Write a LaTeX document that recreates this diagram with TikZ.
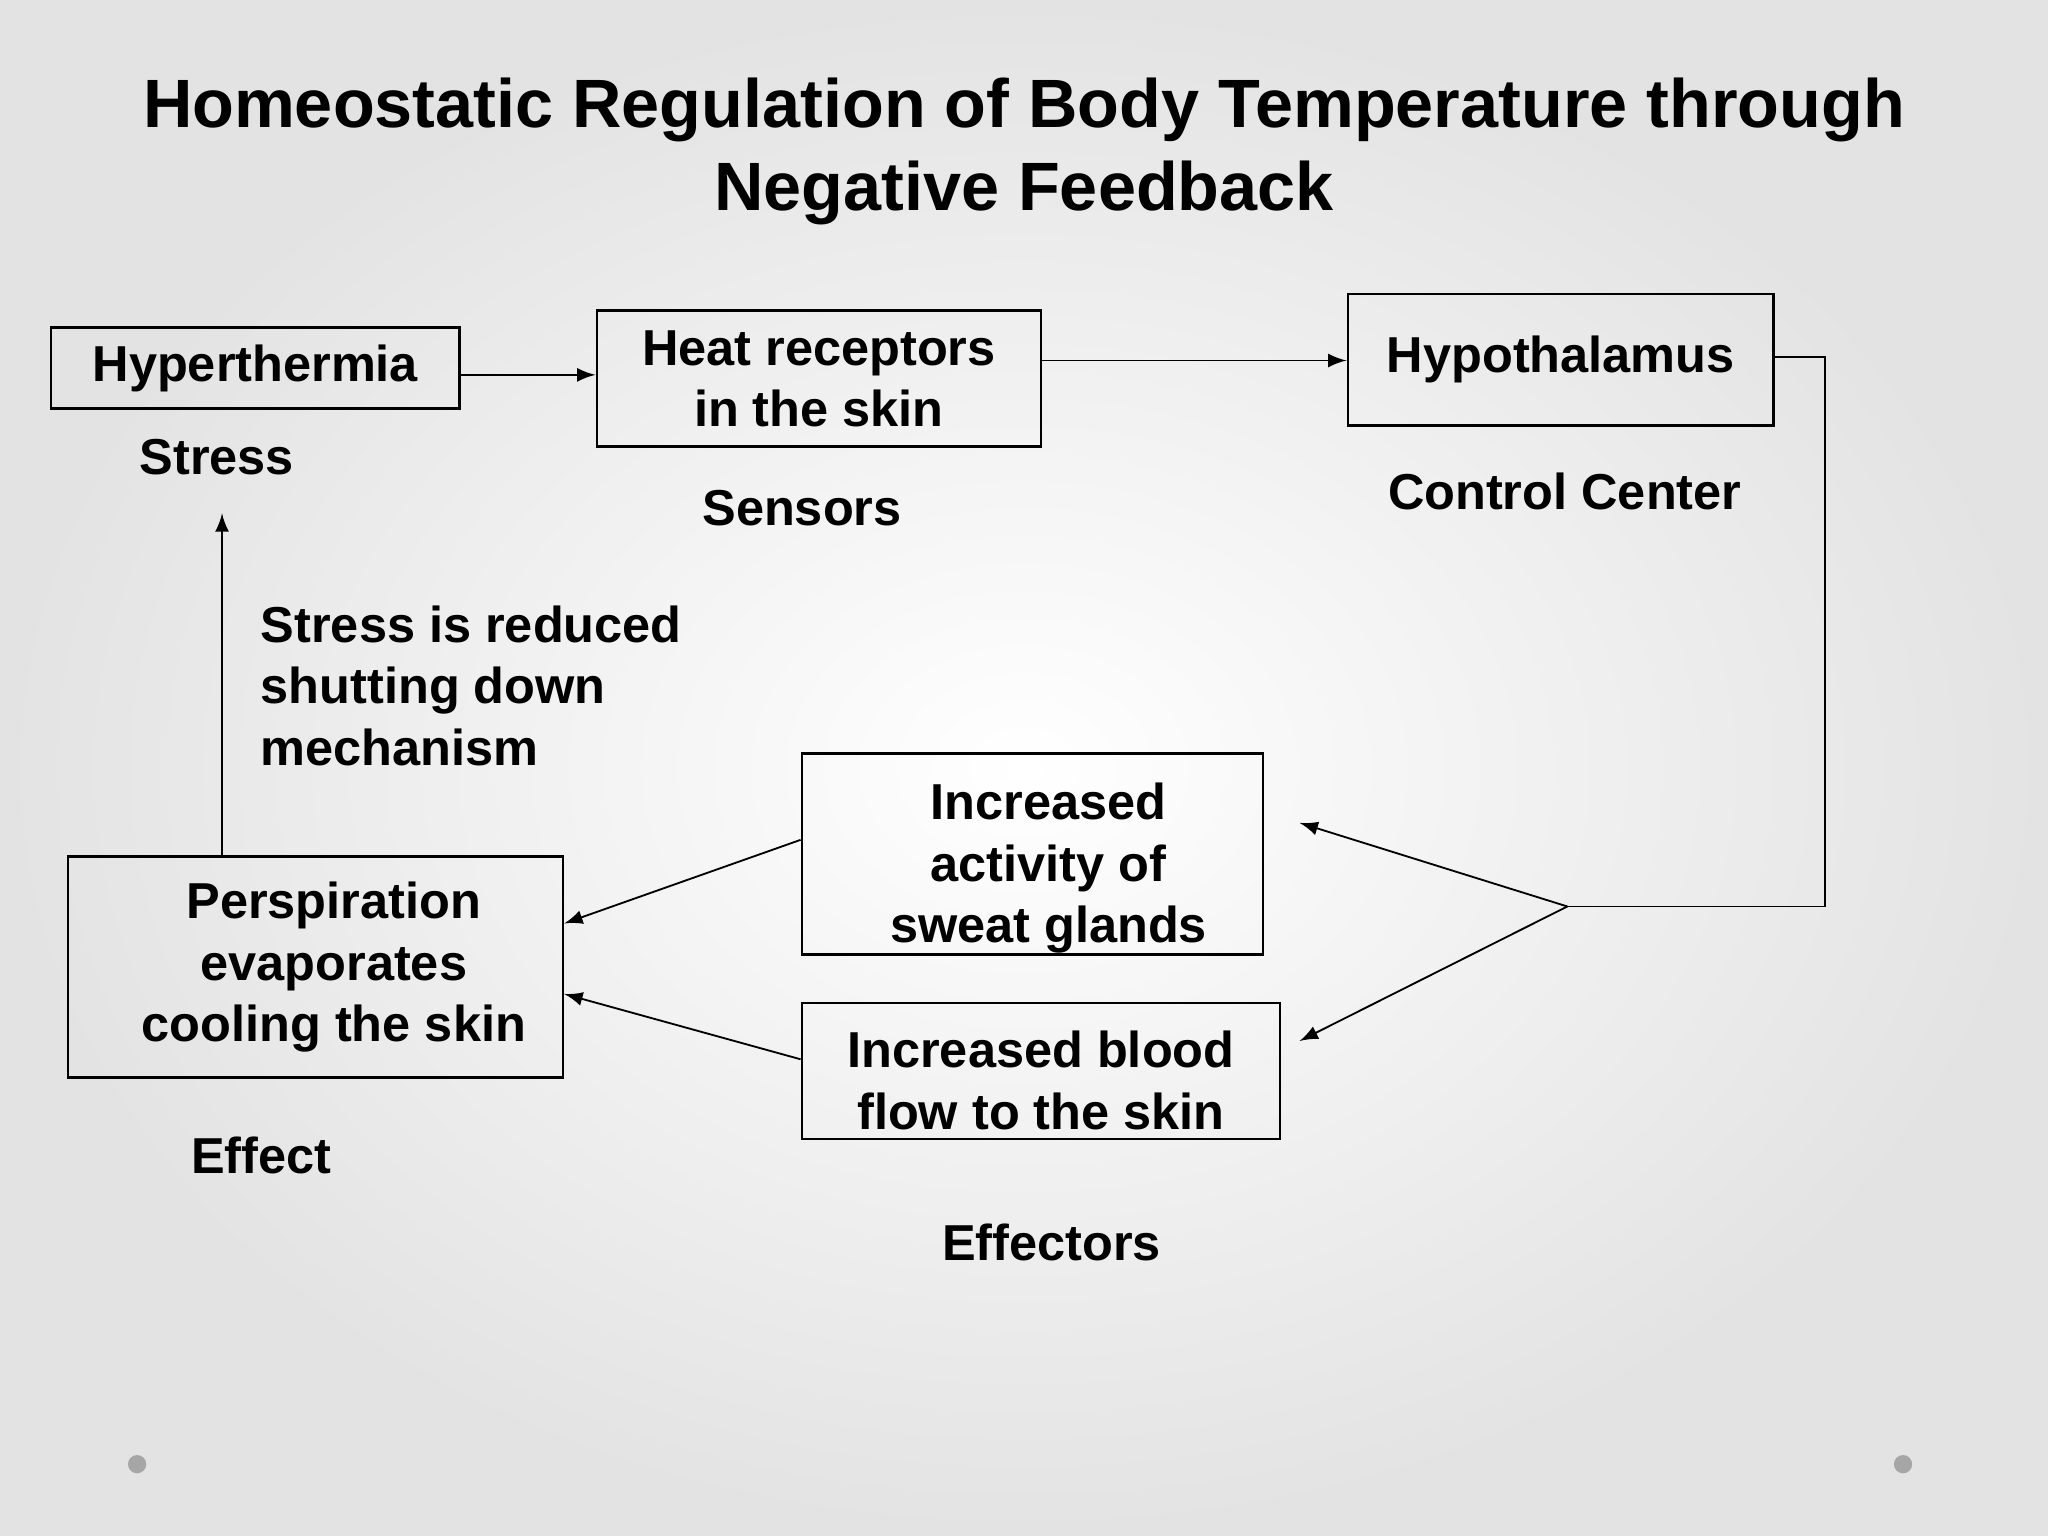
\documentclass[tikz,border=0pt]{standalone}
\usepackage{fontspec}
\setmainfont{Liberation Sans}
\begin{document}
\begin{tikzpicture}[x=0.1mm,y=-0.1mm,
  box/.style={draw,semithick,inner sep=0,align=center,font=\bfseries\fontsize{11}{13.4}\selectfont},
  lbl/.style={inner sep=0,align=left,font=\bfseries\fontsize{11}{13.4}\selectfont},
  arr/.style={-latex,thin}]
\useasboundingbox (0,0) rectangle (1568,1176);
\shade[inner color=white,outer color=gray!22] (0,0) rectangle (1568,1176);
\fill[gray!70] (105,1121) circle (7) (1457,1121) circle (7);
\node[inner sep=0,align=center,font=\bfseries\fontsize{14.9}{17.9}\selectfont] (title) at (784,116) {Homeostatic Regulation of Body Temperature through\\Negative Feedback};
\node[box,minimum width=31.3mm,minimum height=6.2mm] (hyp) at (195.5,282) {Hyperthermia};
\node[box,minimum width=34mm,minimum height=10.4mm] (heat) at (627,290) {Heat receptors\\in the skin};
\node[box,minimum width=32.6mm,minimum height=10.1mm] (hypo) at (1195,275.5) {Hypothalamus};
\node[box,minimum width=35.3mm,minimum height=15.4mm] (sweat) at (790.5,654) {\hspace*{7pt}\rule{0pt}{14pt}Increased\\\hspace*{7pt}activity of\\\hspace*{7pt}sweat glands};
\node[box,minimum width=36.6mm,minimum height=10.4mm] (blood) at (797,820) {\rule{0pt}{12pt}Increased blood\\flow to the skin};
\node[box,minimum width=37.9mm,minimum height=16.9mm] (persp) at (241.5,740.5) {\hspace*{8pt}Perspiration\\\hspace*{8pt}evaporates\\\hspace*{8pt}cooling the skin};
\node[lbl] (stress) at (166,350) {Stress};
\node[lbl] (sens) at (614,389) {Sensors};
\node[lbl] (cc) at (1198,376) {Control Center};
\node[lbl,anchor=west] (red) at (199,525) {Stress is reduced\\shutting down\\mechanism};
\node[lbl] (eff) at (200,885) {Effect};
\node[lbl] (effs) at (805,951) {Effectors};
\coordinate (top) at (170,393);
\coordinate (hub) at (1200,694);
\coordinate (ts) at (995,630);
\coordinate (tb) at (995,797);
\draw[arr] (hyp.east|-0,287) -- (heat.west|-0,287);
\draw[arr] (heat.east|-0,276) -- (hypo.west|-0,276);
\draw[thin] (hypo.east|-0,273) -| (1397,694) -- (hub);
\draw[arr] (hub) -- (ts);
\draw[arr] (hub) -- (tb);
\draw[arr] (sweat.west|-0,643) -- (432,707);
\draw[arr] (blood.west|-0,811) -- (432,761);
\draw[arr] (persp.north-|top) -- (top);
\end{tikzpicture}
\end{document}
